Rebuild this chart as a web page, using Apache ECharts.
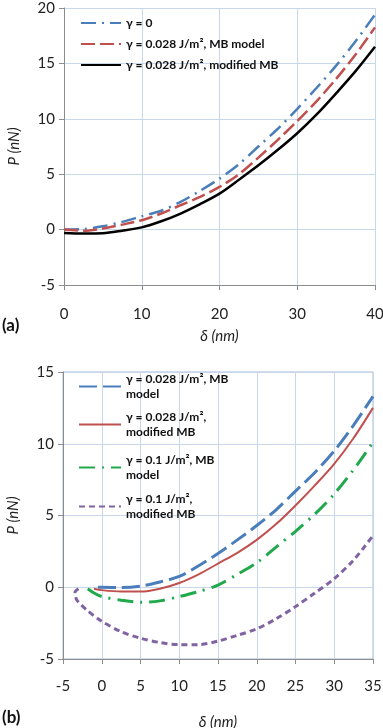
<!DOCTYPE html>
<html><head><meta charset="utf-8">
<script src="https://cdn.jsdelivr.net/npm/echarts@6/dist/echarts.min.js"></script>
<style>html,body{margin:0;padding:0;background:#fff;}#c{width:383px;height:728px;}</style>
</head><body><div id="c"></div>
<script>
// ---- Panel (a) data ----
const aDelta = [0,2.5,5,7.5,10,12.5,15,17.5,20,22.5,25,27.5,30,32.5,35,37.5,40];
const aGamma0 = [0,0.05,0.3,0.7,1.2,1.7,2.5,3.5,4.6,5.9,7.5,9.1,10.9,12.8,14.8,17.0,19.4];
const aMB028 = [0,-0.1,0.1,0.45,0.85,1.45,2.2,2.95,3.85,5.0,6.5,8.1,9.8,11.6,13.6,15.8,18.25];
const aModMB028 = [-0.3,-0.35,-0.33,-0.1,0.2,0.75,1.45,2.3,3.25,4.5,5.8,7.2,8.7,10.4,12.3,14.3,16.5];
const aNames = ['γ = 0','γ = 0.028 J/m², MB model','γ = 0.028 J/m², modified MB'];
const aXTicks = {min:0,max:40,interval:10};
const aYTicks = {min:-5,max:20,interval:5};

// ---- Panel (b) data ----
const bMB028X = [-0.5,0,2.5,5,7.5,10,12.5,15,17.5,20,22.5,25,27.5,30,32.5,35];
const bMB028Y = [0,0,-0.02,0.08,0.37,0.75,1.5,2.35,3.3,4.3,5.4,6.7,8.0,9.5,11.3,13.3];
const bModMB028X = [-1,0,2.5,5,7.5,10,12.5,15,17.5,20,22.5,25,27.5,30,32.5,35];
const bModMB028Y = [-0.1,-0.2,-0.3,-0.3,-0.1,0.3,0.9,1.65,2.4,3.3,4.4,5.7,7.1,8.6,10.4,12.5];
const bMB01X = [-1.8,-1,0,2.5,5,7.5,10,12.5,15,17.5,20,22.5,25,27.5,30,32.5,35];
const bMB01Y = [-0.1,-0.4,-0.65,-0.9,-1.05,-0.95,-0.65,-0.3,0.15,0.9,1.7,2.8,3.9,5.1,6.5,8.2,10.1];
const bModMB01X = [-3.0,-3.45,-3.2,-1.9,-0.2,2.5,5,7.5,10,12.5,15,17.5,20,22.5,25,27.5,30,32.5,35];
const bModMB01Y = [-0.1,-0.35,-0.9,-1.6,-2.3,-3.1,-3.55,-3.85,-4.0,-4.0,-3.75,-3.35,-2.9,-2.2,-1.35,-0.4,0.6,1.9,3.6];
const bNames = ['γ = 0.028 J/m², MB\nmodel','γ = 0.028 J/m²,\nmodified MB','γ = 0.1 J/m², MB\nmodel','γ = 0.1 J/m²,\nmodified MB'];
const bXTicks = {min:-5,max:35,interval:5};
const bYTicks = {min:-5,max:15,interval:5};

const xAxisName = 'δ (nm)';
const yAxisName = 'P (nN)';

const zip = (xs, ys) => xs.map((x, i) => [x, ys[i]]);

const FONT = 'Lato';
const gridColor = '#c9d7ea';
const axisColor = '#8c8c8c';

function mkX(t, idx, nameGap, labelMargin) {
  return {
    type:'value', gridIndex:idx, min:t.min, max:t.max, interval:t.interval,
    name:xAxisName, nameLocation:'middle', nameGap:nameGap,
    nameTextStyle:{fontFamily:FONT, fontStyle:'italic', fontSize:15, color:'#222'},
    axisLine:{onZero:false, lineStyle:{color:axisColor}},
    axisTick:{show:true, length:5, lineStyle:{color:axisColor}},
    axisLabel:{fontFamily:FONT, fontSize:15, color:'#222', margin:labelMargin},
    splitLine:{show:true, lineStyle:{color:gridColor, width:1}}
  };
}
function mkY(t, idx) {
  return {
    type:'value', gridIndex:idx, min:t.min, max:t.max, interval:t.interval,
    name:yAxisName, nameLocation:'middle', nameGap:42,
    nameTextStyle:{fontFamily:FONT, fontStyle:'italic', fontSize:15, color:'#222'},
    axisLine:{show:true, onZero:false, lineStyle:{color:axisColor}},
    axisTick:{show:true, length:5, lineStyle:{color:axisColor}},
    axisLabel:{fontFamily:FONT, fontSize:15, color:'#222', margin:9},
    splitLine:{show:true, lineStyle:{color:gridColor, width:1}}
  };
}

const legendText = {fontFamily:FONT, fontWeight:'bold', fontSize:12, color:'#111'};
function bLegend(name, top) {
  return {
    data:[name], left:78, top:top, padding:0, itemWidth:42, itemHeight:12,
    itemStyle:{opacity:0},
    textStyle:Object.assign({lineHeight:15, padding:[15,0,0,0]}, legendText)
  };
}

const option = {
  animation:false,
  backgroundColor:'#fff',
  grid:[
    {left:64, top:8, width:311, height:277, outerBoundsMode:'none', containLabel:false},
    {left:63, top:372, width:310, height:287, outerBoundsMode:'none', containLabel:false,
     show:true, borderColor:'#a3b9d8', borderWidth:1}
  ],
  xAxis:[mkX(aXTicks,0,44,22), mkX(bXTicks,1,56,20)],
  yAxis:[mkY(aYTicks,0), mkY(bYTicks,1)],
  legend:[
    {data:aNames, orient:'vertical', left:80, top:17, padding:0, itemWidth:40, itemHeight:14, itemGap:9,
     itemStyle:{opacity:0}, textStyle:legendText},
    bLegend(bNames[0], 364),
    bLegend(bNames[1], 402),
    bLegend(bNames[2], 445),
    bLegend(bNames[3], 484)
  ],
  graphic:[
    {type:'text', left:2, top:317, style:{text:'(a)', font:'bold 17px Lato', fill:'#111'}},
    {type:'text', left:2, top:709, style:{text:'(b)', font:'bold 17px Lato', fill:'#111'}}
  ],
  series:[
    {name:aNames[0], type:'line', xAxisIndex:0, yAxisIndex:0, data:zip(aDelta,aGamma0), smooth:0.3, symbol:'none',
     lineStyle:{color:'#4a7ebb', width:2.5, type:[15,6,2,6]}, itemStyle:{color:'#4a7ebb'}},
    {name:aNames[1], type:'line', xAxisIndex:0, yAxisIndex:0, data:zip(aDelta,aMB028), smooth:0.3, symbol:'none',
     lineStyle:{color:'#c0504d', width:2.5, type:[14,5]}, itemStyle:{color:'#c0504d'}},
    {name:aNames[2], type:'line', xAxisIndex:0, yAxisIndex:0, data:zip(aDelta,aModMB028), smooth:0.3, symbol:'none',
     lineStyle:{color:'#000', width:2.5}, itemStyle:{color:'#000'}},

    {name:bNames[0], type:'line', xAxisIndex:1, yAxisIndex:1, data:zip(bMB028X,bMB028Y), smooth:0.3, symbol:'none',
     lineStyle:{color:'#4a7ebb', width:3, type:[18,6]}, itemStyle:{color:'#4a7ebb'}},
    {name:bNames[1], type:'line', xAxisIndex:1, yAxisIndex:1, data:zip(bModMB028X,bModMB028Y), smooth:0.3, symbol:'none',
     lineStyle:{color:'#c0504d', width:2}, itemStyle:{color:'#c0504d'}},
    {name:bNames[2], type:'line', xAxisIndex:1, yAxisIndex:1, data:zip(bMB01X,bMB01Y), smooth:0.3, symbol:'none',
     lineStyle:{color:'#1fa94b', width:3, type:[16,7,2,7]}, itemStyle:{color:'#1fa94b'}},
    {name:bNames[3], type:'line', xAxisIndex:1, yAxisIndex:1, data:zip(bModMB01X,bModMB01Y), smooth:0.3, symbol:'none',
     lineStyle:{color:'#7f63a2', width:3, type:[6,4]}, itemStyle:{color:'#7f63a2'}}
  ]
};
const chart = echarts.init(document.getElementById('c'), null, {renderer:'canvas'});
chart.setOption(option);
</script></body></html>
